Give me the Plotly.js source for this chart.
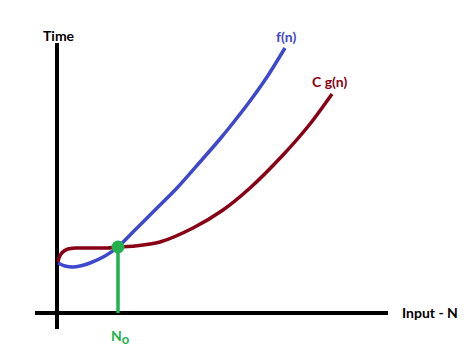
<!DOCTYPE html>
<html>
<head>
<meta charset="utf-8">
<script src="https://cdn.plot.ly/plotly-3.0.1.min.js"></script>
<style>html,body{margin:0;padding:0;background:#fff;}#chart{width:474px;height:357px;}</style>
</head>
<body>
<div id="chart"></div>
<script>
// Input size n (horizontal) and time (vertical)
const fN    = [1, 8, 16, 23, 33, 48, 61, 78, 98, 120, 143, 163, 176, 193, 210, 228];
const fTime = [50, 47, 46, 47, 50, 57, 66, 83, 103, 125, 151, 174, 190, 212, 236, 265];
const gN    = [1, 2, 4, 7, 11, 18, 33, 50, 61, 78, 103, 136, 166, 193, 226, 253, 275];
const gTime = [51, 55, 59, 62, 64, 65, 65, 65, 66, 67, 71, 85, 103, 125, 158, 189, 219];
const crossN = [61];
const crossTime = [66];
const labels = {f: "f(n)", g: "C g(n)", y: "Time", x: "Input - N", n0: "N<sub><span style='font-size:13px'>o</span></sub>"};

const BLUE = "#3F48CC", RED = "#880015", GREEN = "#22B14C";
const font = {family: "Lato, 'Open Sans', sans-serif", size: 14};

const traces = [
  {x: gN, y: gTime, mode: "lines", line: {color: RED, width: 3.5, shape: "spline", smoothing: 0.8}, hoverinfo: "skip"},
  {x: fN, y: fTime, mode: "lines", line: {color: BLUE, width: 3.5, shape: "spline", smoothing: 0.8}, hoverinfo: "skip"},
  {x: [crossN[0], crossN[0]], y: [0, crossTime[0]], mode: "lines", line: {color: GREEN, width: 3.5}, hoverinfo: "skip"},
  {x: crossN, y: crossTime, mode: "markers", marker: {color: GREEN, size: 13}, hoverinfo: "skip"}
];

const layout = {
  width: 474, height: 357,
  margin: {l: 0, r: 0, t: 0, b: 0},
  paper_bgcolor: "#fff", plot_bgcolor: "#fff",
  showlegend: false,
  xaxis: {range: [-57, 417], visible: false, fixedrange: true},
  yaxis: {range: [-44, 313], visible: false, fixedrange: true},
  shapes: [
    {type: "line", x0: -22, x1: 331, y0: 0, y1: 0, line: {color: "#000", width: 4}, layer: "below"},
    {type: "line", x0: 0, x1: 0, y0: -16, y1: 270, line: {color: "#000", width: 4}, layer: "below"}
  ],
  annotations: [
    {x: 2, y: 278, text: "<b>" + labels.y + "</b>", showarrow: false, font: Object.assign({}, font, {color: "#000"})},
    {x: 373, y: 1, text: "<b>" + labels.x + "</b>", showarrow: false, font: Object.assign({}, font, {color: "#000"})},
    {x: 229, y: 277, text: "<b>" + labels.f + "</b>", showarrow: false, font: Object.assign({}, font, {color: BLUE})},
    {x: 273, y: 232, text: "<b>" + labels.g + "</b>", showarrow: false, font: Object.assign({}, font, {color: RED})},
    {x: 63, y: -24, text: "<b>" + labels.n0 + "</b>", showarrow: false, font: Object.assign({}, font, {color: GREEN})}
  ]
};

Plotly.newPlot("chart", traces, layout, {staticPlot: true, displayModeBar: false});
</script>
</body>
</html>
